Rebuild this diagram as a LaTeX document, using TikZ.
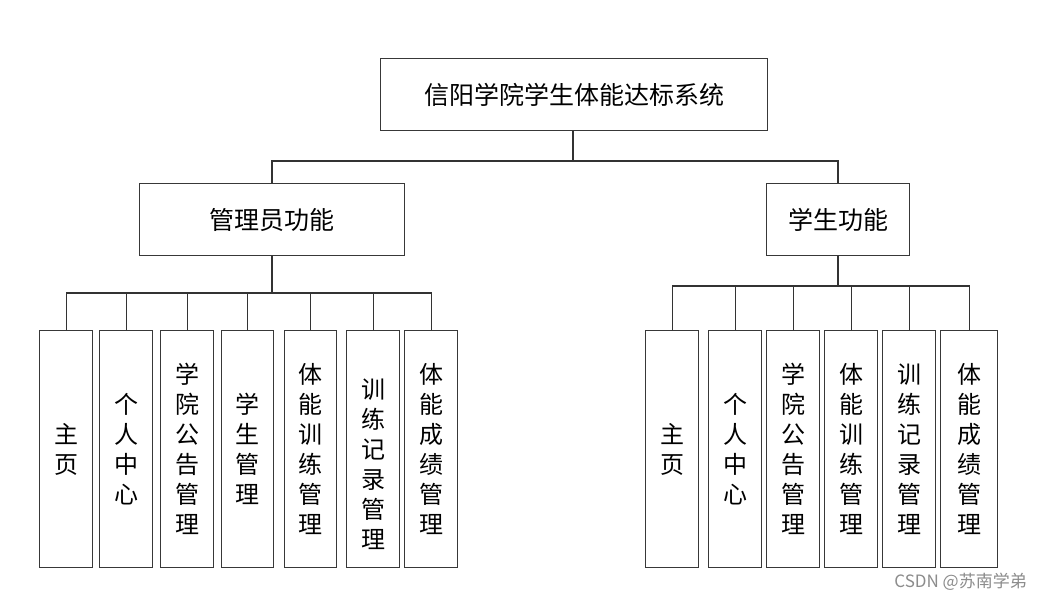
\documentclass[tikz,border=0pt]{standalone}
\usepackage{fontspec}
\setmainfont{Noto Sans CJK SC}
\newfontfamily\wmfont{Noto Sans CJK SC}
\begin{document}
\begin{tikzpicture}[x=1pt,y=-1pt,
  box/.style={draw=black!78,line width=1.2pt,fill=white,inner sep=0pt,anchor=north west},
  conn/.style={draw=black!80,line width=1.2pt},
  big/.style={font=\fontsize{25}{30}\selectfont},
  leaf/.style={font=\fontsize{24}{30}\selectfont,align=center,inner sep=0pt}]
\useasboundingbox (0,0) rectangle (1041,599);
\fill[white] (0,0) rectangle (1041,599);
% root and second level
\node[box,minimum width=387pt,minimum height=72pt] (root) at (380,58) {};
\node[big] (roott) at (root.center) {信阳学院学生体能达标系统};
\node[box,minimum width=265pt,minimum height=72pt] (adm) at (139,183) {};
\node[big] (admt) at (adm.center) {管理员功能};
\node[box,minimum width=143pt,minimum height=72pt] (stu) at (766,183) {};
\node[big] (stut) at (stu.center) {学生功能};
% connectors from root
\coordinate (rj) at (573,161);
\draw[conn] (root.south -| rj) -- (rj);
\draw[conn] (adm.north -| 272,0) |- (rj) -| (stu.north -| 838,0);
% admin leaves
\foreach \n/\x/\w/\t/\dy in {a1/39/53/主\\页/0, a2/99/53/个\\人\\中\\心/0, a3/160/53/学\\院\\公\\告\\管\\理/0, a4/221/52/学\\生\\管\\理/0, a5/284/52/体\\能\\训\\练\\管\\理/0, a6/346/53/训\\练\\记\\录\\管\\理/15, a7/404/53/体\\能\\成\\绩\\管\\理/0}{
  \node[box,minimum width=\w pt,minimum height=237pt] (\n) at (\x,330) {};
  \node[leaf] (\n t) at ([yshift=-\dy pt]\n.center) {\t};
}
\coordinate (aj) at (272,293);
\draw[conn] (adm.south -| aj) -- (aj);
\draw[conn] (a1.north) |- (aj) -| (a7.north);
\foreach \n in {a2,a3,a4,a5,a6}{\draw[conn] (\n.north) -- (\n.north |- aj);}
% student leaves
\foreach \n/\x/\w/\t in {s1/645/53/主\\页, s2/708/53/个\\人\\中\\心, s3/766/53/学\\院\\公\\告\\管\\理, s4/824/53/体\\能\\训\\练\\管\\理, s5/882/53/训\\练\\记\\录\\管\\理, s6/940/57/体\\能\\成\\绩\\管\\理}{
  \node[box,minimum width=\w pt,minimum height=237pt] (\n) at (\x,330) {};
  \node[leaf] (\n t) at (\n.center) {\t};
}
\coordinate (sj) at (838,286);
\draw[conn] (stu.south -| sj) -- (sj);
\draw[conn] (s1.north) |- (sj) -| (s6.north);
\foreach \n in {s2,s3,s4,s5}{\draw[conn] (\n.north) -- (\n.north |- sj);}
% watermark
\node[anchor=base east,text=black!45,font=\wmfont\fontsize{17}{17}\selectfont,inner sep=0pt] (wm) at (1027,587) {CSDN @苏南学弟};
\end{tikzpicture}
\end{document}
